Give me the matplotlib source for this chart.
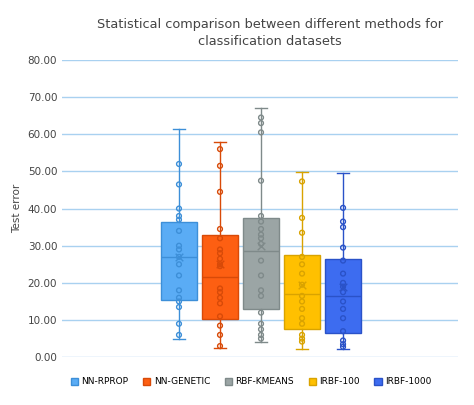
import matplotlib

matplotlib.use("Agg")
import matplotlib.pyplot as plt
from matplotlib.patches import Patch

methods = ["NN-RPROP", "NN-GENETIC", "RBF-KMEANS", "IRBF-100", "IRBF-1000"]
colors = ["#5aacf5", "#fd5f12", "#9ba5a5", "#ffc000", "#3d6cf0"]
edges = ["#3d8fd8", "#d84a08", "#7f8a8a", "#d9a300", "#2a52c8"]

# whisker low, Q1, median, Q3, whisker high, mean
w_low = [5.0, 2.5, 4.0, 2.3, 2.2]
q1 = [15.3, 10.2, 13.0, 7.7, 6.5]
med = [26.9, 21.5, 28.5, 17.0, 16.5]
q3 = [36.3, 33.0, 37.5, 27.6, 26.5]
w_high = [61.5, 57.8, 67.0, 49.8, 49.7]
means = [27.0, 25.0, 30.0, 19.5, 19.0]

points = [
    [52, 46.5, 40, 38, 37, 34, 30, 29, 27, 25, 22, 18, 16, 15, 13.5, 9, 6],
    [56, 51.5, 44.5, 34.5, 32, 29, 28, 26.5, 25, 24.5, 18.5, 17.5, 16, 14.5, 11, 8.5, 6, 3],
    [64.5, 63, 60.5, 47.5, 38, 36.5, 34.5, 33, 32, 30.5, 26, 22, 18, 16.5, 12, 9, 7.5, 6, 5],
    [47.3, 37.5, 33.5, 27, 25, 22.5, 19.5, 16.5, 15, 13, 10.5, 9, 6, 5, 4.2],
    [40.2, 36.5, 35, 29.5, 26, 22.5, 20, 19, 17.5, 15, 13, 10.5, 7, 4.5, 3.5, 2.8],
]

fig = plt.figure(figsize=(4.74, 4.05), dpi=100)
ax = fig.add_axes([0.131, 0.118, 0.835, 0.734])

for i in range(len(methods)):
    pos = i + 1
    stats = [dict(whislo=w_low[i], q1=q1[i], med=med[i], q3=q3[i],
                  whishi=w_high[i], mean=means[i], fliers=[])]
    ax.bxp(stats, positions=[pos], widths=0.88, patch_artist=True, showmeans=False,
           boxprops=dict(facecolor=colors[i], edgecolor=edges[i], linewidth=1),
           medianprops=dict(color=edges[i], linewidth=1),
           whiskerprops=dict(color=edges[i], linewidth=1),
           capprops=dict(color=edges[i], linewidth=1), capwidths=0.3, zorder=3)
    ax.scatter([pos] * len(points[i]), points[i], s=12, facecolor="none",
               edgecolor=edges[i], linewidth=1, zorder=4)
    ax.scatter([pos], [means[i]], marker="x", s=30, color=edges[i], linewidth=1, zorder=4)

ax.set_xlim(-1.85, 7.8)
ax.set_ylim(0, 80)
ax.set_yticks(range(0, 81, 10))
ax.set_yticklabels([f"{v:.2f}" for v in range(0, 81, 10)], fontsize=7.5, color="#444444")
ax.set_xticks([])
ax.yaxis.grid(True, color="#a9d1f0", linewidth=1)
ax.set_axisbelow(True)
for s in ax.spines.values():
    s.set_visible(False)
ax.tick_params(axis="y", length=0)
ax.set_ylabel("Test error", fontsize=7.5, color="#444444")

fig.text(0.57, 0.955, "Statistical comparison between different methods for\nclassification datasets",
         ha="center", va="top", fontsize=9.3, color="#444444", linespacing=1.4)

handles = [Patch(facecolor=c, edgecolor=e) for c, e in zip(colors, edges)]
fig.legend(handles, methods, loc="center", bbox_to_anchor=(0.53, 0.057), ncol=5,
           frameon=False, fontsize=6.5, handlelength=0.8, handleheight=0.8,
           columnspacing=1.6, handletextpad=0.4)

fig.savefig("out.png", dpi=100)
